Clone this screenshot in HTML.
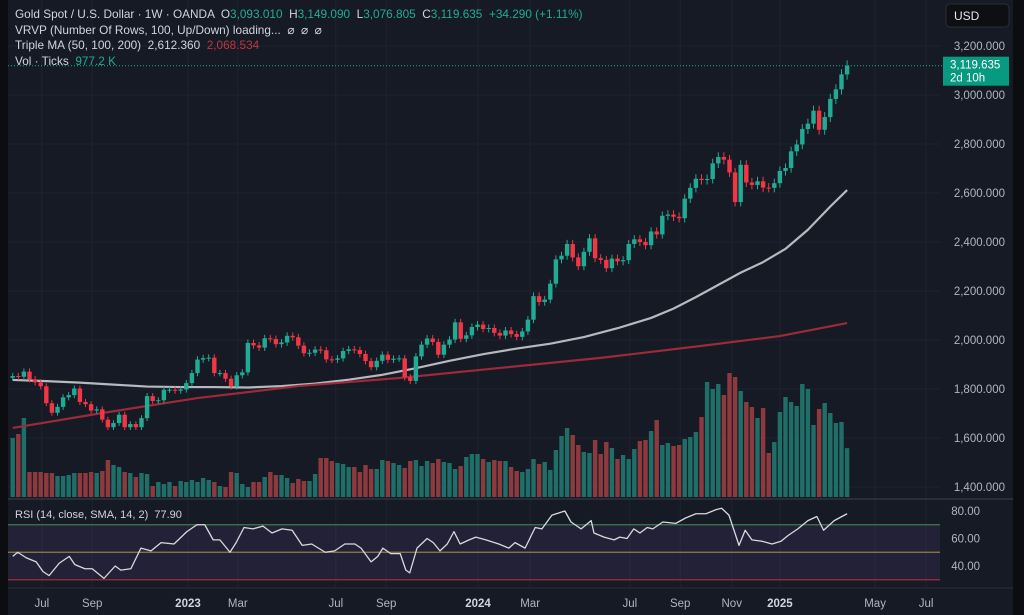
<!DOCTYPE html>
<html><head><meta charset="utf-8">
<style>
html,body{margin:0;padding:0;background:#161a25;}
svg{display:block;font-family:"Liberation Sans",sans-serif;}
text{white-space:pre;}
</style></head>
<body>
<svg id="chart" width="1024" height="615" viewBox="0 0 1024 615">
  <rect x="0" y="0" width="1024" height="615" fill="#161a25"/>
  <rect x="0" y="0" width="8" height="615" fill="#0c0d10"/>
  <rect x="1013" y="0" width="11" height="615" fill="#0c0d10"/>
  <g id="grid"></g>
  <g id="rsiBg"></g>
  <g id="vol"></g>
  <g id="ma"></g>
  <g id="candles"></g>
  <g id="rsi"></g>
  <g id="axes"></g>
  <line x1="8" y1="499" x2="1013" y2="499" stroke="#2a2e39" stroke-width="2"/>
  <line x1="8" y1="588" x2="1013" y2="588" stroke="#2a2e39" stroke-width="1"/>
  <g font-size="11.8" fill="#d1d4dc">
    <text x="15" y="18">Gold Spot / U.S. Dollar · 1W · OANDA  O<tspan fill="#22ab94">3,093.010</tspan>  H<tspan fill="#22ab94">3,149.090</tspan>  L<tspan fill="#22ab94">3,076.805</tspan>  C<tspan fill="#22ab94">3,119.635</tspan>  <tspan fill="#22ab94">+34.290 (+1.11%)</tspan></text>
    <text x="15" y="34">VRVP (Number Of Rows, 100, Up/Down) loading...  ⌀  ⌀  ⌀</text>
    <text x="15" y="49">Triple MA (50, 100, 200)  2,612.360  <tspan fill="#c2343f">2,068.534</tspan></text>
    <text x="15" y="65">Vol · Ticks  <tspan fill="#22ab94">977.2 K</tspan></text>
    <text x="15" y="518" font-size="11">RSI (14, close, SMA, 14, 2)  77.90</text>
  </g>
  <g>
    <rect x="946" y="4" width="63" height="23" rx="4" fill="#0e0f12" stroke="#2a2e39"/>
    <text x="954" y="20" font-size="12" fill="#e6e8ee">USD</text>
  </g>
</svg>
<script>
const NS="http://www.w3.org/2000/svg";
const closes=[1853,1850,1871,1840,1827,1811,1742,1703,1727,1766,1775,1802,1747,1738,1712,1717,1675,1644,1661,1695,1644,1657,1644,1681,1771,1751,1754,1797,1797,1793,1798,1824,
1865,1920,1926,1928,1865,1865,1842,1811,1856,1868,1988,1978,1969,2007,2004,1983,1990,2017,2011,1977,1946,1948,1961,1958,1921,1919,1925,1955,1962,1959,1943,1914,1889,1915,1940,1919,1924,1925,1848,1833,1933,1981,2006,1992,1940,1981,2002,2072,2005,2019,2053,2063,
2045,2049,2029,2018,2039,2024,2013,2035,2083,2179,2155,2165,2230,2329,2344,2392,2337,2301,2360,2415,2334,2327,2293,2332,2321,2326,2392,2411,2400,2387,2443,2431,2507,2512,2503,2497,2577,2621,2658,2653,2657,2721,2747,2736,2684,2563,2715,2643,2633,2648,2622,2621,
2640,2690,2702,2770,2798,2861,2883,2936,2858,2910,2984,3023,3084,3119.635];
const firstOpen=1846;
const volumesK=[1180,1260,1580,500,500,500,480,480,420,420,440,480,480,480,500,480,520,
740,640,600,500,480,400,480,460,
220,300,260,300,220,320,300,340,300,380,340,300,220,200,
500,480,260,200,300,300,400,500,440,440,380,280,360,320,320,460,
780,780,720,680,660,600,600,500,640,560,560,740,720,680,640,580,720,740,620,720,680,760,700,680,560,620,800,860,860,760,700,740,720,
720,600,520,500,560,760,660,700,540,940,1220,1380,1240,1040,900,880,1140,860,1100,980,760,840,760,960,1120,1140,1320,1540,1040,1080,1020,1040,1160,1200,1300,1600,2300,2160,2260,2040,2480,2400,2120,1900,1800,1580,1780,880,1100,1700,2000,1900,1820,2260,2160,1440,1760,1880,1680,1480,1500,977];
const ma100Weeks=[0,6,12,18,24,30,36,42,48,54,60,66,72,78,84,90,96,102,108,114,118,122,126,130,134,138,142,146,149];
const ma100Vals=[1837,1832,1826,1818,1810,1808,1808,1806,1812,1822,1838,1858,1885,1915,1942,1965,1985,2012,2048,2090,2128,2175,2225,2275,2318,2372,2450,2545,2612];
const ma200Weeks=[0,16,33,51,69,87,105,123,137,149];
const ma200Vals=[1641,1702,1763,1812,1845,1886,1927,1976,2016,2069];
const rsiWeeks=[0,0.9,2.4,4.2,5.4,6.5,8.3,10.1,11.1,12.9,14.2,16.3,18.3,19.3,21.1,22.9,24.7,26.5,28.8,31.1,32.9,34.3,35.8,37,38.8,39.9,41.3,42.9,44.7,46.3,48.1,49.9,51.7,53.4,55.8,57.5,59.3,61.1,62.2,64,65.2,66.1,67.5,69.2,70.2,70.9,72.2,74,75.1,76.3,77.6,78.8,79.9,81.5,82.7,84.5,86.8,88.6,89.7,91.5,93.3,94.5,96.3,98.6,99.7,101.5,103.3,103.8,105.6,107.4,108.4,109.7,110.9,112,113.3,114.3,116.1,118.4,120.2,122,123.8,125.6,126.6,127.9,129.7,130.8,132,133.8,135.6,137.2,138.4,140.2,142,143.6,144.8,146.7,149];
const rsiVals=[47,50,46,43,36,33,42,47,41,38,38,31,40,37,38,53,51,57,56,65,70,70,59,59,50,57,68,67,69,64,67,66,55,56,50,51,56,56,53,43,47,53,49,49,37,35,53,60,57,51,56,65,56,59,61,59,56,53,57,53,68,67,77,80,72,67,73,64,61,59,61,60,67,64,68,67,72,71,75,78,78,81,82,77,55,66,59,58,56,58,62,67,73,76,66,73,78];
const priceTicks=[1400,1600,1800,2000,2200,2400,2600,2800,3000,3200];
const rsiTicks=[40,60,80];
const timeTickWeeks=[5.2,14.2,31.3,40.2,57.7,66.7,83.1,92.4,110.2,119.2,128.4,137,154,163.1];
const timeTickLabels=["Jul","Sep","2023","Mar","Jul","Sep","2024","Mar","Jul","Sep","Nov","2025","May","Jul"];

const X=i=>12.7+i*5.6;
const Y=p=>46+(3200-p)*0.245;
const RY=v=>511+(80-v)*1.375;
const VH=k=>k/20;
const UP="#22ab94",DN="#f23645",VUP="#1f6e67",VDN="#8c3a3e";
function mk(tag,attrs,parent){const e=document.createElementNS(NS,tag);for(const k in attrs)e.setAttribute(k,attrs[k]);parent.appendChild(e);return e;}
const G=id=>document.getElementById(id);

timeTickWeeks.forEach(w=>{const l=mk('line',{x1:X(w),x2:X(w),y1:0,y2:588,stroke:'#1f2330'},G('grid'));

});
priceTicks.forEach(p=>{const l=mk('line',{x1:8,x2:940,y1:Y(p),y2:Y(p),stroke:'#1f2330'},G('grid'));


const t=mk('text',{x:1005,y:Y(p)+4,'text-anchor':'end','font-size':11.5,fill:'#b2b5be'},G('axes'));t.textContent=p.toLocaleString('en-US')+'.000';

});

const band=mk('rect',{x:8,y:RY(70),width:932,height:RY(30)-RY(70),fill:'rgba(126,87,194,0.12)'},G('rsiBg'));


[[70,'#3f7a4a'],[50,'#8f8240'],[30,'#a82a3c']].forEach(([v,c])=>{const l=mk('line',{x1:8,x2:940,y1:RY(v),y2:RY(v),stroke:c,'stroke-width':1.3},G('rsiBg'));

});
rsiTicks.forEach(v=>{const t=mk('text',{x:980,y:RY(v)+4,'text-anchor':'end','font-size':11.5,fill:'#b2b5be'},G('axes'));t.textContent=v.toFixed(2);

});
const rl=mk('polyline',{points:rsiWeeks.map((w,i)=>X(w)+','+RY(rsiVals[i])).join(' '),fill:'none',stroke:'#d9d9dc','stroke-width':1.3,'stroke-linejoin':'round'},G('rsi'));



timeTickWeeks.forEach((w,i)=>{const lab=timeTickLabels[i];const t=mk('text',{x:X(w),y:607,'text-anchor':'middle','font-size':11.5,fill:/^\d/.test(lab)?'#d1d4dc':'#b2b5be','font-weight':/^\d/.test(lab)?'bold':'normal'},G('axes'));t.textContent=lab;

});

closes.forEach((c,i)=>{const o=i?closes[i-1]:firstOpen;const up=c>=o;
const hi=Math.max(o,c)*1.007,lo=Math.min(o,c)*0.993;
const v=VH(volumesK[i]);
const vb=mk('rect',{x:X(i)-2.2,y:497-v,width:4.4,height:v,fill:up?VUP:VDN},G('vol'));


const g=mk('g',{},G('candles'));


mk('line',{x1:X(i),x2:X(i),y1:Y(hi),y2:Y(lo),stroke:up?UP:DN,'stroke-width':1},g);
const top=Y(Math.max(o,c)),h=Math.max(1,Y(Math.min(o,c))-top);
mk('rect',{x:X(i)-2.2,y:top,width:4.4,height:h,fill:up?UP:DN},g);});

const m1=mk('polyline',{points:ma100Weeks.map((w,i)=>X(w)+','+Y(ma100Vals[i])).join(' '),fill:'none',stroke:'#b8b9bf','stroke-width':2.2,'stroke-linejoin':'round'},G('ma'));


const m2=mk('polyline',{points:ma200Weeks.map((w,i)=>X(w)+','+Y(ma200Vals[i])).join(' '),fill:'none',stroke:'#9c2a38','stroke-width':2.2},G('ma'));



const last=closes[closes.length-1];
const pl=mk('line',{x1:8,x2:943,y1:Y(last),y2:Y(last),stroke:'#22ab94','stroke-dasharray':'1 2'},G('axes'));


const pg=mk('g',{},G('axes'));


mk('rect',{x:943,y:Y(last)-9,width:66,height:29,fill:'#089981'},pg);
const t1=mk('text',{x:950,y:Y(last)+3,'font-size':11.5,fill:'#ffffff'},pg);t1.textContent='3,119.635';
const t2=mk('text',{x:950,y:Y(last)+16,'font-size':11.5,fill:'#ffffff'},pg);t2.textContent='2d 10h';
</script>
</body></html>
